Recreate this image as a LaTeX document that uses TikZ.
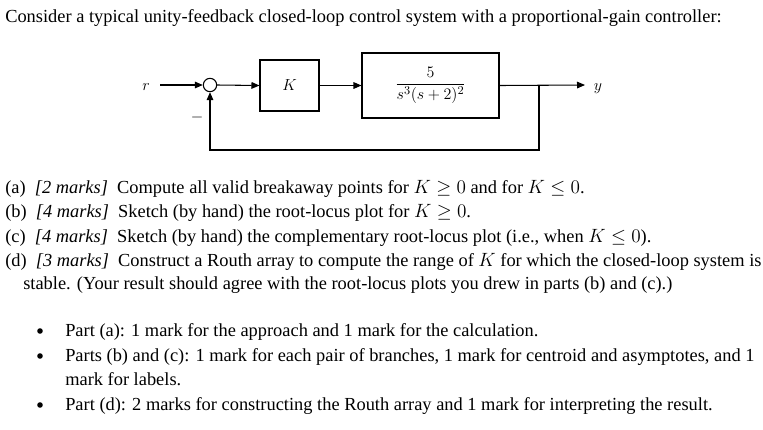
\documentclass[tikz,border=0pt]{standalone}
\usepackage{fontspec}
\setmainfont{Liberation Serif}
\usetikzlibrary{arrows.meta}
\begin{document}
\begin{tikzpicture}[x=0.75pt,y=-0.75pt,
  txt/.style={anchor=base west,inner sep=0,font=\fontsize{13.8}{16}\selectfont},
  dg/.style={font=\fontsize{12.5}{15}\selectfont},
  sig/.style={-{Triangle[length=6pt,width=5pt]},thick}]
\useasboundingbox (0,0) rectangle (763,429);
\node[txt] (t0) at (5,22) {Consider a typical unity-feedback closed-loop control system with a proportional-gain controller:};
% block diagram
\node[dg] (r) at (146,87) {$r$};
\node[draw,thick,circle,inner sep=0,minimum size=10pt] (S) at (210,85) {};
\node[dg,draw,thick,minimum width=59*0.75pt,minimum height=51*0.75pt] (K) at (289.5,85.5) {$K$};
\node[dg,draw,thick,minimum width=137*0.75pt,minimum height=65*0.75pt] (G) at (430.5,85.5) {$\displaystyle\frac{5}{s^3(s+2)^2}$};
\node[dg] (y) at (598,89) {$y$};
\coordinate (br) at (539,85);
\coordinate (out) at (585,85);
\coordinate (fb1) at (539,150);
\coordinate (fb2) at (210,150);
\node[dg] (minus) at (197,117) {$-$};
\draw[sig] (160,85) -- (S.west);
\draw[sig] (S.east) -- (K.west);
\draw[sig] (K.east) -- (G.west);
\draw[sig] (G.east) -- (out);
\draw[sig] (br) -- (fb1) -- (fb2) -- (S.south);
% items
\node[txt] (a) at (5,193) {(a)\ \ \textit{[2 marks]}\ \ Compute all valid breakaway points for $K\geq 0$ and for $K\leq 0$.};
\node[txt] (b) at (5,217) {(b)\ \ \textit{[4 marks]}\ \ Sketch (by hand) the root-locus plot for $K\geq 0$.};
\node[txt] (c) at (5,242) {(c)\ \ \textit{[4 marks]}\ \ Sketch (by hand) the complementary root-locus plot (i.e., when $K\leq 0$).};
\node[txt] (d) at (5,266) {(d)\ \ \textit{[3 marks]}\ \ Construct a Routh array to compute the range of $K$ for which the closed-loop system is};
\node[txt] (d2) at (23,289) {stable. (Your result should agree with the root-locus plots you drew in parts (b) and (c).)};
\foreach \yy in {331,356,405} \fill (40,\yy) circle (2.8);
\node[txt] (p1) at (65,336) {Part (a): 1 mark for the approach and 1 mark for the calculation.};
\node[txt] (p2) at (65,361) {Parts (b) and (c): 1 mark for each pair of branches, 1 mark for centroid and asymptotes, and 1};
\node[txt] (p3) at (65,385) {mark for labels.};
\node[txt] (p4) at (65,410) {Part (d): 2 marks for constructing the Routh array and 1 mark for interpreting the result.};
\end{tikzpicture}
\end{document}
